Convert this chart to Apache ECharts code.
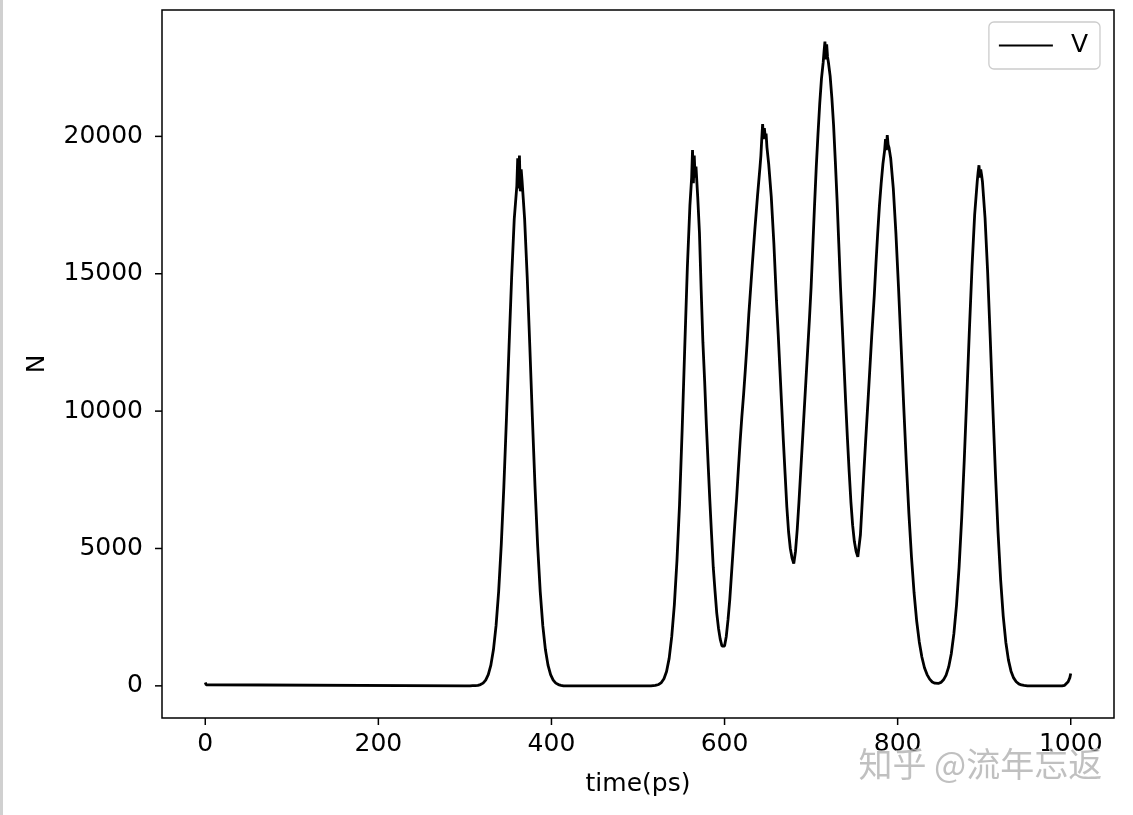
<!DOCTYPE html>
<html>
<head>
<meta charset="utf-8">
<script src="https://cdn.jsdelivr.net/npm/echarts@6/dist/echarts.min.js"></script>
<style>
html,body{margin:0;padding:0;background:#fff;}
#chart{width:1133px;height:815px;}
</style>
</head>
<body>
<div id="chart"></div>
<script>
// time (ps)
const timePs = [
  0, 1, 3, 300, 306, 309, 312, 315, 318, 321, 324, 327, 330, 333, 336, 339, 342, 345, 348, 351,
  354, 357, 360, 361, 362, 363, 364, 365, 366, 369, 372, 375, 378, 381, 384, 387, 390, 393, 396, 399,
  402, 405, 408, 411, 414, 420, 510, 515, 520, 524, 527, 530, 533, 536, 539, 542, 545, 548, 551, 554,
  557, 560, 562, 563, 564, 565, 566, 567, 569, 571, 573, 575, 577, 579, 581, 583, 585, 587, 589, 591,
  593, 595, 597, 598, 600, 602, 604, 606, 608, 610, 612, 614, 616, 618, 620, 622, 624, 626, 628, 630,
  632, 635, 638, 641, 642, 643, 644, 645, 646, 647, 648, 649, 651, 654, 657, 660, 662, 664, 666, 668,
  670, 672, 674, 676, 678, 680, 682, 684, 686, 688, 690, 692, 694, 696, 698, 700, 702, 704, 706, 708,
  710, 712, 714, 715, 716, 717, 718, 719, 720, 722, 724, 726, 728, 730, 732, 734, 736, 738, 740, 742,
  744, 746, 748, 750, 752, 754, 755, 757, 759, 761, 763, 766, 768, 770, 773, 775, 777, 779, 781, 783,
  785, 786, 787, 788, 789, 790, 792, 795, 798, 801, 804, 807, 810, 813, 816, 819, 822, 825, 828, 831,
  834, 837, 840, 843, 845, 847, 850, 853, 856, 859, 862, 865, 868, 871, 874, 877, 880, 883, 886, 889,
  892, 893, 894, 895, 896, 897, 898, 901, 904, 907, 910, 913, 916, 919, 922, 925, 928, 931, 934, 937,
  940, 943, 946, 950, 990, 993, 995, 997, 999, 1000
];
// N (counts) for series V
const seriesV = [
  120, 40, 0, 0, 0, 8, 12, 20, 47, 100, 210, 410, 755, 1320, 2190, 3440, 5130, 7250, 9720, 12350,
  14870, 16990, 18200, 19200, 18100, 19300, 18000, 18800, 18400, 16990, 14870, 12350, 9720, 7250, 5130, 3440, 2190, 1320, 755, 410,
  210, 100, 47, 20, 0, 0, 0, 0, 15, 50, 120, 260, 520, 1000, 1800, 2950, 4550, 6600, 9300, 12300,
  15200, 17500, 18500, 19500, 18300, 19300, 18500, 18900, 17800, 16500, 14400, 12500, 11100, 9500, 8100, 6750, 5500, 4300, 3450, 2650,
  2100, 1700, 1450, 1400, 1450, 1800, 2400, 3120, 4060, 5000, 5950, 6850, 7900, 8900, 9800, 10600, 11500, 12450, 13500, 14400,
  15300, 16600, 17800, 18900, 19300, 19900, 20450, 19900, 20300, 20000, 20100, 19600, 19000, 17800, 16100, 14010, 12800, 11500, 10200, 8900,
  7700, 6500, 5600, 5000, 4650, 4450, 4900, 5700, 6700, 7800, 8900, 10000, 11100, 12200, 13300, 14500, 16000, 17500, 18900, 20100,
  21200, 22100, 22700, 23100, 23450, 22800, 23350, 22900, 22700, 22200, 21400, 20400, 19100, 17700, 16100, 14500, 13100, 11700, 10300, 9000,
  7800, 6700, 5850, 5250, 4900, 4700, 4750, 5500, 6650, 7800, 8900, 10500, 11600, 12700, 14200, 15400, 16500, 17500, 18300, 19000,
  19500, 19900, 19500, 20050, 19700, 19600, 19200, 18100, 16480, 14510, 12370, 10200, 8140, 6280, 4690, 3380, 2360, 1600, 1050, 660,
  410, 245, 143, 97, 85, 88, 125, 218, 390, 690, 1170, 1900, 2930, 4320, 6100, 8230, 10590, 13020, 15280, 17150,
  18370, 18700, 18950, 18500, 18800, 18600, 18350, 17030, 15060, 12650, 10130, 7730, 5600, 3870, 2540, 1590, 946, 536, 290, 149,
  73, 34, 15, 0, 0, 20, 60, 150, 300, 450
];
const xTicks = [0, 200, 400, 600, 800, 1000];
const yTicks = [0, 5000, 10000, 15000, 20000];
const seriesName = 'V';
const xName = 'time(ps)';
const yName = 'N';
const watermark = '知乎 @流年忘返';

const FONT = 'DejaVu Sans';
const FS = 25;
const X_MIN = -50, X_MAX = 1050, Y_MIN = -1170, Y_MAX = 24600;
const TICK_LEN = 7;
const chart = echarts.init(document.getElementById('chart'), null, {renderer: 'canvas'});
const baseGraphics = [
  {type: 'rect', left: 0, top: 0, shape: {width: 3, height: 815}, style: {fill: '#d0d0d0'}, silent: true},
  {type: 'text', left: 858, top: 747, silent: true, z: 100,
   style: {text: watermark, font: '34px "Noto Sans CJK SC"', fill: 'rgba(150,150,150,0.6)', stroke: 'rgba(255,255,255,0.8)', lineWidth: 1}}
];
chart.setOption({
  animation: false,
  backgroundColor: '#fff',
  grid: {left: 162, right: 19, top: 10, bottom: 97, show: true, borderColor: '#000', borderWidth: 1.5, backgroundColor: 'transparent'},
  legend: {
    data: [seriesName], right: 33, top: 22, orient: 'vertical',
    backgroundColor: '#fff', borderColor: '#cccccc', borderWidth: 1.3, borderRadius: 5,
    padding: [11, 12, 11, 10], icon: 'rect', itemWidth: 54, itemHeight: 2,
    textStyle: {fontSize: FS, color: '#000', fontFamily: FONT, padding: [0, 0, 0, 13]}
  },
  xAxis: {
    type: 'value', min: X_MIN, max: X_MAX,
    axisLine: {show: false, onZero: false}, splitLine: {show: false},
    axisTick: {show: false},
    axisLabel: {customValues: xTicks, fontSize: FS, color: '#000', fontFamily: FONT, margin: 14, formatter: v => String(v)},
    name: xName, nameLocation: 'middle', nameGap: 54,
    nameTextStyle: {fontSize: FS, color: '#000', fontFamily: FONT}
  },
  yAxis: {
    type: 'value', min: Y_MIN, max: Y_MAX,
    axisLine: {show: false, onZero: false}, splitLine: {show: false},
    axisTick: {show: false},
    axisLabel: {customValues: yTicks, fontSize: FS, color: '#000', fontFamily: FONT, margin: 19, formatter: v => String(v)},
    name: yName, nameLocation: 'middle', nameGap: 112,
    nameTextStyle: {fontSize: FS, color: '#000', fontFamily: FONT}
  },
  series: [{
    name: seriesName, type: 'line', symbol: 'none', showSymbol: false, smooth: false,
    data: timePs.map((t, i) => [t, seriesV[i]]),
    lineStyle: {color: '#000', width: 2.8}, itemStyle: {color: '#000'}
  }],
  graphic: baseGraphics
});
// Tick marks placed through the chart's own axis scales
const tickStyle = {stroke: '#000', lineWidth: 1.5};
const tickGraphics = [];
xTicks.forEach(v => {
  const p = chart.convertToPixel({gridIndex: 0}, [v, Y_MIN]);
  tickGraphics.push({type: 'line', silent: true, shape: {x1: p[0], y1: p[1], x2: p[0], y2: p[1] + TICK_LEN}, style: tickStyle});
});
yTicks.forEach(v => {
  const p = chart.convertToPixel({gridIndex: 0}, [X_MIN, v]);
  tickGraphics.push({type: 'line', silent: true, shape: {x1: p[0] - TICK_LEN, y1: p[1], x2: p[0], y2: p[1]}, style: tickStyle});
});
chart.setOption({graphic: baseGraphics.concat(tickGraphics)});
</script>
</body>
</html>
